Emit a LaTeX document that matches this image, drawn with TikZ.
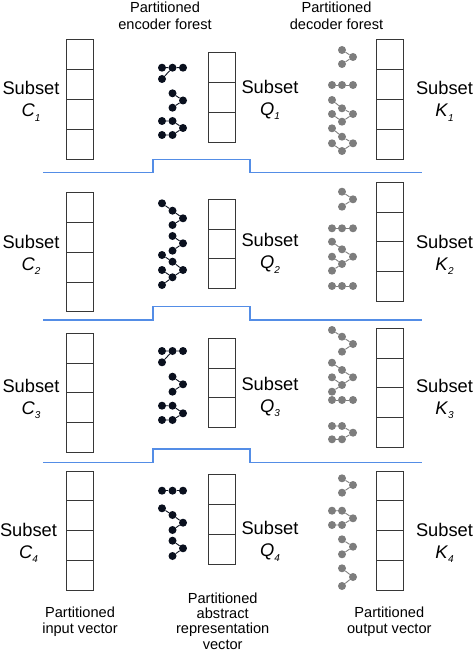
\documentclass[tikz,border=0pt]{standalone}
\usepackage{fontspec}
\setmainfont{Liberation Sans}
\usetikzlibrary{positioning}
\definecolor{sepblue}{RGB}{84,141,230}
\definecolor{encfill}{RGB}{10,16,30}
\definecolor{decfill}{RGB}{125,125,125}
\definecolor{cellline}{RGB}{55,55,55}
\newcommand{\subsetname}[2]{Subset\\\textit{#1}\smash{\raisebox{-0.45ex}{\fontsize{10}{10}\selectfont\textit{#2}}}}
\tikzset{
  encdot/.style={circle,fill=encfill,inner sep=0pt,minimum size=8pt},
  decdot/.style={circle,fill=decfill,inner sep=0pt,minimum size=8pt},
  encedge/.style={draw=encfill,line width=0.9pt},
  decedge/.style={draw=decfill,line width=0.9pt},
  cellbox/.style={draw=cellline,line width=1pt},
  sepline/.style={draw=sepblue,line width=1.3pt},
  subsetlbl/.style={align=center,font=\fontsize{18.3}{22}\selectfont},
  headlbl/.style={align=center,font=\fontsize{14.6}{16.7}\selectfont}
}
\begin{document}
\begin{tikzpicture}[x=1pt,y=-1pt]
\useasboundingbox (0,0) rectangle (474,655);

\node[headlbl] (enchead) at (165,15.5) {Partitioned\\encoder forest};
\node[headlbl] (dechead) at (336.5,15.5) {Partitioned\\decoder forest};

\foreach \i in {0,...,3} \draw[cellbox] (66.7,40+29.8*\i) rectangle ++(26.6,29.8);
\foreach \i in {0,...,2} \draw[cellbox] (208.3,53+30*\i) rectangle ++(27.3,30);
\foreach \i in {0,...,3} \draw[cellbox] (376.6,40+29.8*\i) rectangle ++(27.2,29.8);
\node[subsetlbl] (subC1) at (31,99.2) {\subsetname{C}{1}};
\node[subsetlbl] (subQ1) at (270,99.2) {\subsetname{Q}{1}};
\node[subsetlbl] (subK1) at (444.5,99.2) {\subsetname{K}{1}};
\foreach \n/\x/\y in {e1a/162/67.7, e1b/172.5/67.7, e1c/183/67.7, e1d/162/79,
  e1e/172.5/93.3, e1f/183/100.5, e1g/172.5/107.7,
  e1h/162/121, e1i/172.5/121, e1j/183/128, e1k/162/135, e1l/172.5/135}
  \node[encdot] (\n) at (\x,\y) {};
\draw[encedge] (e1a) -- (e1b) -- (e1c) (e1b) -- (e1d);
\draw[encedge] (e1e) -- (e1f) -- (e1g);
\draw[encedge] (e1h) -- (e1i) -- (e1j) -- (e1l) -- (e1k);
\foreach \n/\x/\y in {d1a/342/50, d1b/353/57, d1c/342/64,
  d1d/332/85, d1e/342/85, d1f/353/85,
  d1g/332/100, d1h/342/108.3, d1i/353/114, d1j/332/114, d1k/342/121.7,
  d1l/332/128.3, d1m/342/136.7, d1n/353/143.3, d1o/332/143.3, d1p/342/151}
  \node[decdot] (\n) at (\x,\y) {};
\draw[decedge] (d1a) -- (d1b) -- (d1c);
\draw[decedge] (d1d) -- (d1e) -- (d1f);
\draw[decedge] (d1g) -- (d1h) -- (d1i) -- (d1k) -- (d1j);
\draw[decedge] (d1l) -- (d1m) -- (d1n) -- (d1p) -- (d1o);
\draw[sepline] (43,172.7) -- (153,172.7) -- (153,159.3) -- (250,159.3) -- (250,172.7) -- (422,172.7);

\foreach \i in {0,...,3} \draw[cellbox] (66.7,192.7+29.8*\i) rectangle ++(26.6,29.8);
\foreach \i in {0,...,2} \draw[cellbox] (208.3,199.3+29.7*\i) rectangle ++(27.3,29.7);
\foreach \i in {0,...,3} \draw[cellbox] (376.6,182.3+29.7*\i) rectangle ++(27.2,29.7);
\node[subsetlbl] (subC2) at (31,252.8) {\subsetname{C}{2}};
\node[subsetlbl] (subQ2) at (270,252.8) {\subsetname{Q}{2}};
\node[subsetlbl] (subK2) at (444.5,252.8) {\subsetname{K}{2}};
\foreach \n/\x/\y in {e2a/162/203.3, e2b/172.5/210.7, e2c/183/218.3, e2d/172.5/225,
  e2e/172.5/236, e2f/183/243.3, e2g/172.5/250.7,
  e2h/162/255, e2i/172.5/261.7, e2j/183/270, e2k/162/270, e2l/172.5/277.3, e2m/162/285}
  \node[encdot] (\n) at (\x,\y) {};
\draw[encedge] (e2a) -- (e2b) -- (e2c) -- (e2d);
\draw[encedge] (e2e) -- (e2f) -- (e2g);
\draw[encedge] (e2h) -- (e2i) -- (e2j) -- (e2l) -- (e2m) (e2k) -- (e2l);
\foreach \n/\x/\y in {d2a/342/191.7, d2b/353/199.3, d2c/342/206.7,
  d2d/332/228.3, d2e/342/228.3, d2f/353/228.3,
  d2g/332/241.7, d2h/342/249.3, d2i/353/256.7, d2j/332/256.7, d2k/342/264, d2l/332/270.7,
  d2m/332/286, d2n/342/286, d2o/353/286}
  \node[decdot] (\n) at (\x,\y) {};
\draw[decedge] (d2a) -- (d2b) -- (d2c);
\draw[decedge] (d2d) -- (d2e) -- (d2f);
\draw[decedge] (d2g) -- (d2h) -- (d2i) -- (d2k) -- (d2l) (d2j) -- (d2k);
\draw[decedge] (d2m) -- (d2n) -- (d2o);
\draw[sepline] (43,320) -- (153,320) -- (153,306.7) -- (250,306.7) -- (250,320) -- (422,320);

\foreach \i in {0,...,3} \draw[cellbox] (66.7,333.3+29.8*\i) rectangle ++(26.6,29.8);
\foreach \i in {0,...,2} \draw[cellbox] (208.3,338.3+29.7*\i) rectangle ++(27.3,29.7);
\foreach \i in {0,...,3} \draw[cellbox] (376.6,328.3+29.7*\i) rectangle ++(27.2,29.7);
\node[subsetlbl] (subC3) at (31,396.5) {\subsetname{C}{3}};
\node[subsetlbl] (subQ3) at (270,396.5) {\subsetname{Q}{3}};
\node[subsetlbl] (subK3) at (444.5,396.5) {\subsetname{K}{3}};
\foreach \n/\x/\y in {e3a/162/351, e3b/172.5/351, e3c/183/351, e3d/162/362.3,
  e3e/172.5/376.7, e3f/183/384.3, e3g/172.5/391.7,
  e3h/162/405.7, e3i/172.5/405.7, e3j/183/413.3, e3k/162/420, e3l/172.5/420}
  \node[encdot] (\n) at (\x,\y) {};
\draw[encedge] (e3a) -- (e3b) -- (e3c) (e3b) -- (e3d);
\draw[encedge] (e3e) -- (e3f) -- (e3g);
\draw[encedge] (e3h) -- (e3i) -- (e3j) -- (e3l) -- (e3k);
\foreach \n/\x/\y in {d3a/332/330, d3b/342/336.7, d3c/353/344, d3d/342/351.7,
  d3e/332/362.7, d3f/342/370, d3g/353/377.3, d3h/332/377.3, d3i/342/385, d3j/332/391.7,
  d3k/332/400, d3l/342/400, d3m/353/400,
  d3n/332/426, d3o/342/426, d3p/353/432.7, d3q/332/439.3, d3r/342/439.3}
  \node[decdot] (\n) at (\x,\y) {};
\draw[decedge] (d3a) -- (d3b) -- (d3c) -- (d3d);
\draw[decedge] (d3e) -- (d3f) -- (d3g) -- (d3i) -- (d3j) (d3h) -- (d3i);
\draw[decedge] (d3k) -- (d3l) -- (d3m);
\draw[decedge] (d3n) -- (d3o) -- (d3p) -- (d3r) -- (d3q);
\draw[sepline] (43,462.3) -- (153,462.3) -- (153,449) -- (250,449) -- (250,462.3) -- (422,462.3);

\foreach \i in {0,...,3} \draw[cellbox] (66.7,471+29.9*\i) rectangle ++(26.6,29.9);
\foreach \i in {0,...,2} \draw[cellbox] (208.3,474.3+29.9*\i) rectangle ++(27.3,29.9);
\foreach \i in {0,...,3} \draw[cellbox] (376.6,471+29.9*\i) rectangle ++(27.2,29.9);
\node[subsetlbl] (subC4) at (28.5,540.8) {\subsetname{C}{4}};
\node[subsetlbl] (subQ4) at (270,540.8) {\subsetname{Q}{4}};
\node[subsetlbl] (subK4) at (444.5,540.8) {\subsetname{K}{4}};
\foreach \n/\x/\y in {e4a/162/490.7, e4b/172.5/490.7, e4c/183/490.7,
  e4d/162/508.3, e4e/172.5/515, e4f/183/522.7, e4g/172.5/530,
  e4h/172.5/540.7, e4i/183/548.3, e4j/172.5/556}
  \node[encdot] (\n) at (\x,\y) {};
\draw[encedge] (e4a) -- (e4b) -- (e4c);
\draw[encedge] (e4d) -- (e4e) -- (e4f) -- (e4g);
\draw[encedge] (e4h) -- (e4i) -- (e4j);
\foreach \n/\x/\y in {d4a/342/478.3, d4b/353/485, d4c/342/492.7,
  d4d/332/510.7, d4e/342/510.7, d4f/353/518.3, d4g/332/525, d4h/342/525,
  d4i/342/539.3, d4j/353/546.7, d4k/342/554.3,
  d4l/342/568.3, d4m/353/577, d4n/342/586}
  \node[decdot] (\n) at (\x,\y) {};
\draw[decedge] (d4a) -- (d4b) -- (d4c);
\draw[decedge] (d4d) -- (d4e) -- (d4f) -- (d4h) -- (d4g);
\draw[decedge] (d4i) -- (d4j) -- (d4k);
\draw[decedge] (d4l) -- (d4m) -- (d4n);

\node[headlbl] (inlbl) at (80,621.7) {Partitioned\\input vector};
\node[headlbl,font=\fontsize{14.6}{15.4}\selectfont] (abslbl) at (222.7,621) {Partitioned\\abstract\\representation\\vector};
\node[headlbl] (outlbl) at (389.3,621.7) {Partitioned\\output vector};

\end{tikzpicture}
\end{document}
